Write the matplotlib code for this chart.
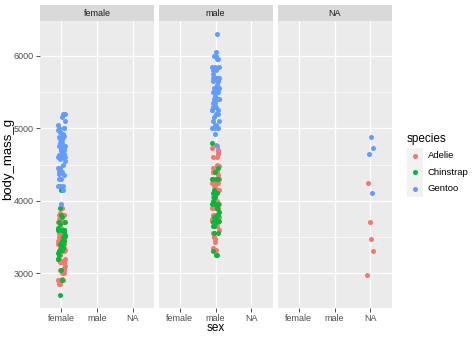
import numpy as np
import matplotlib
matplotlib.use("Agg")
import matplotlib.pyplot as plt
from matplotlib.patches import Rectangle

plt.rcParams['font.family'] = ['Liberation Sans', 'DejaVu Sans']

# body mass (g) per sex and species
sexes = ["female", "male", "NA"]
species = ["Adelie", "Chinstrap", "Gentoo"]
colors = {"Adelie": "#F8766D", "Chinstrap": "#00BA38", "Gentoo": "#619CFF"}

adelie_female = [3800, 3250, 3450, 3625, 3200, 3700, 3450, 3325, 3400, 3800, 3800, 3550,
                 3200, 3150, 3250, 3300, 3325, 3550, 3300, 3150, 3100, 3000, 3450, 3500,
                 3450, 2900, 3550, 2850, 3150, 3600, 2850, 3350, 3050, 3600, 3550, 3700,
                 3700, 3550, 3200, 3800, 3350, 3500, 3600, 3550, 3400, 3300, 3700, 2900,
                 3725, 3075, 2925, 3750, 3175, 3825, 3200, 3900, 2900, 3350, 3150, 3450,
                 3050, 3275, 3050, 3325, 3500, 3425, 3175, 3400, 3400, 3050, 3000, 3475, 3450]
adelie_male = [3750, 3650, 4675, 3800, 4400, 4500, 4200, 3600, 3950, 3800, 3950, 3900,
               3900, 4150, 3950, 4650, 3900, 4400, 4600, 3425, 4150, 4300, 4050, 3700,
               3800, 3750, 4400, 4050, 3950, 4100, 4450, 3900, 4150, 4250, 3900, 4000,
               4700, 4200, 3550, 3800, 3950, 4300, 4450, 4300, 4350, 4100, 4725, 4250,
               3550, 3900, 4775, 4600, 4275, 4075, 3775, 3325, 3500, 3875, 4000, 4300,
               4000, 3500, 4475, 3900, 3975, 4250, 3475, 3725, 3650, 4250, 3750, 4000, 3350]
adelie_na = [3475, 4250, 3300, 3700, 2975]

chinstrap_female = [3500, 3900, 3525, 3325, 3700, 3600, 3400, 3200, 3350, 3675, 3450, 3350,
                    3250, 3400, 3050, 3275, 3775, 2700, 3600, 3350, 3625, 3600, 3400, 3700,
                    3450, 3300, 3575, 4150, 3600, 2900, 3600, 3500, 3800, 3300]
chinstrap_male = [3900, 3650, 3725, 3750, 3700, 3800, 4050, 3950, 3800, 3550, 4450, 4300,
                  3300, 4100, 3950, 4300, 3250, 4050, 3950, 4400, 4000, 3900, 3775, 3850,
                  3700, 3650, 4300, 3775, 4800, 3250, 4150, 3550, 3700, 4100]
chinstrap_na = []

gentoo_female = [4500, 4450, 4550, 4800, 4400, 4650, 4650, 4200, 4150, 4800, 5000, 4400,
                 5000, 4600, 4700, 5050, 5150, 4950, 4350, 3950, 4300, 4900, 4200, 5100,
                 4850, 4400, 4900, 4300, 4450, 4200, 4400, 4700, 4700, 4750, 5200, 4700,
                 4600, 4750, 4625, 4725, 4750, 4600, 4875, 4950, 4750, 4850, 4875, 4625,
                 4850, 4975, 4700, 4575, 5000, 4650, 4375, 4925, 4850, 5200]
gentoo_male = [5700, 5700, 5400, 5200, 5150, 5550, 5850, 5850, 6300, 5350, 5700, 5050,
               5100, 5650, 5550, 5250, 6050, 5400, 5250, 5350, 5700, 4750, 5550, 5400,
               5300, 5300, 5000, 5050, 5000, 5550, 5300, 5650, 5700, 5800, 5550, 5000,
               5100, 5800, 6000, 5950, 5450, 5350, 5600, 5300, 5550, 5400, 5650, 5200,
               4925, 5250, 5600, 5500, 5500, 5500, 5500, 5950, 5500, 5850, 6000, 5750, 5400]
gentoo_na = [4100, 4650, 4725, 4875]

mass = {
    ("female", "Adelie"): adelie_female, ("male", "Adelie"): adelie_male, ("NA", "Adelie"): adelie_na,
    ("female", "Chinstrap"): chinstrap_female, ("male", "Chinstrap"): chinstrap_male,
    ("NA", "Chinstrap"): chinstrap_na,
    ("female", "Gentoo"): gentoo_female, ("male", "Gentoo"): gentoo_male, ("NA", "Gentoo"): gentoo_na,
}

W, H = 474, 338
fig = plt.figure(figsize=(W / 100, H / 100), dpi=100)

panel_bg = "#EBEBEB"
strip_bg = "#D9D9D9"
tick_col = "#4D4D4D"

def px_rect(x0, y0, x1, y1):
    # pixel box (top-left origin) -> figure fraction rect
    return [x0 / W, 1 - y1 / H, (x1 - x0) / W, (y1 - y0) / H]

panel_x = [(40, 154), (158.5, 272.5), (277.5, 391.5)]
top, bottom, strip_top = 21, 308, 5
golden = 0.6180339887
jit_w = 0.1

for p, (sex, (x0, x1)) in enumerate(zip(sexes, panel_x)):
    ax = fig.add_axes(px_rect(x0, top, x1, bottom))
    ax.set_facecolor(panel_bg)
    ax.set_xlim(0.4, 3.6)
    ax.set_ylim(2520, 6480)
    for v in [3000, 4000, 5000, 6000]:
        ax.axhline(v, color="white", lw=1.0, zorder=0)
    for v in [2500, 3500, 4500, 5500, 6500]:
        ax.axhline(v, color="white", lw=0.5, zorder=0)
    for v in [1, 2, 3]:
        ax.axvline(v, color="white", lw=1.0, zorder=0)

    k = 0
    for sp in species:
        vals = mass[(sex, sp)]
        if not vals:
            continue
        n = len(vals)
        # deterministic spread around the category centre
        offs = np.array([((k + i + 1) * golden) % 1.0 for i in range(n)]) * 2 * jit_w - jit_w
        k += n
        ax.scatter(np.full(n, p + 1.0) + offs, vals, s=13, color=colors[sp],
                   linewidths=0, zorder=3)

    for s in ax.spines.values():
        s.set_visible(False)
    ax.set_xticks([1, 2, 3])
    ax.set_xticklabels(sexes)
    ax.tick_params(axis="x", length=2.8, width=0.6, color="#333333", pad=1.5,
                   labelsize=6.5, labelcolor=tick_col)
    if p == 0:
        ax.set_yticks([3000, 4000, 5000, 6000])
        ax.tick_params(axis="y", length=2.8, width=0.6, color="#333333", pad=1.5,
                       labelsize=6.5, labelcolor=tick_col)
    else:
        ax.set_yticks([])

    sax = fig.add_axes(px_rect(x0, strip_top, x1, top))
    sax.set_facecolor(strip_bg)
    sax.set_xticks([])
    sax.set_yticks([])
    for s in sax.spines.values():
        s.set_visible(False)
    sax.text(0.5, 0.5, sex, ha="center", va="center", fontsize=6.5, color="#1A1A1A",
             transform=sax.transAxes)

fig.text((40 + 391.5) / 2 / W, 1 - 328 / H, "sex", ha="center", va="center", fontsize=8.5)
fig.text(8 / W, 1 - 159 / H, "body_mass_g", ha="center", va="center",
         rotation=90, fontsize=9.5)

# legend
lax = fig.add_axes([0, 0, 1, 1])
lax.set_xlim(0, W)
lax.set_ylim(H, 0)
lax.axis("off")
lax.text(407, 139, "species", ha="left", va="center", fontsize=8.5)
for i, sp in enumerate(species):
    yc = 156 + i * 16.3
    lax.add_patch(Rectangle((407, yc - 8), 16.5, 16.3, facecolor="#F2F2F2", edgecolor="none"))
    lax.scatter([415.5], [yc], s=13, color=colors[sp], linewidths=0)
    lax.text(428, yc, sp, ha="left", va="center", fontsize=6.8)

fig.savefig("out.png", dpi=100)
